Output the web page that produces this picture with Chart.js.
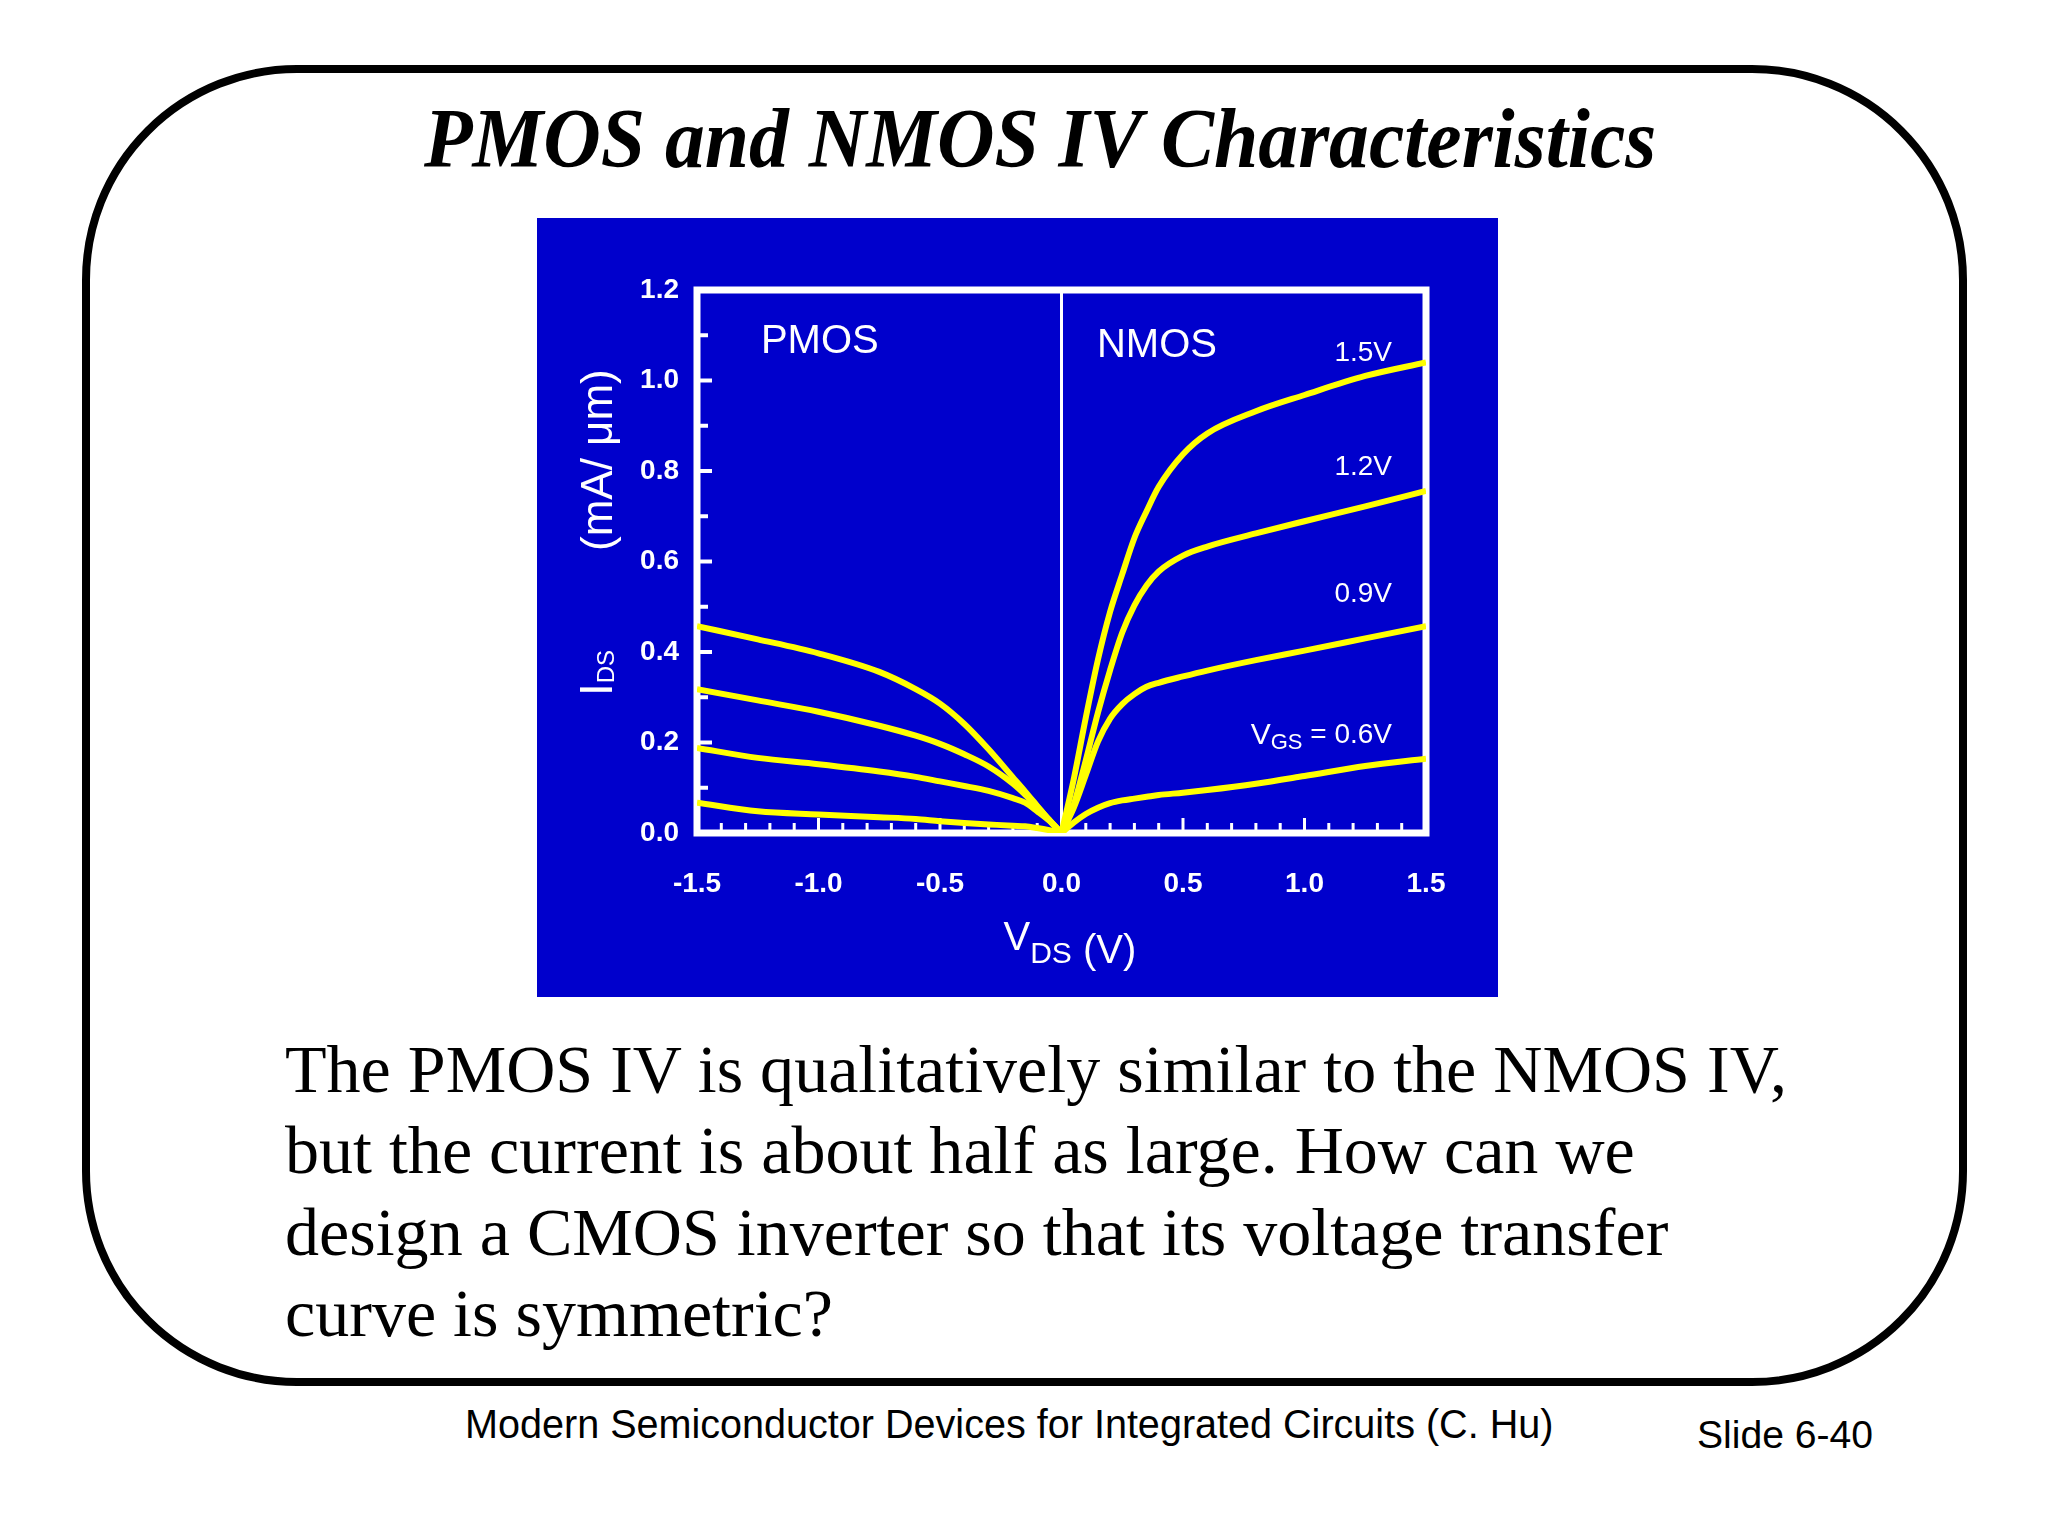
<!DOCTYPE html>
<html>
<head>
<meta charset="utf-8">
<script src="https://cdn.jsdelivr.net/npm/chart.js@4.4.1/dist/chart.umd.min.js"></script>
<style>
body { margin:0; width:2048px; height:1536px; background:#fff; position:relative; overflow:hidden; }
#frame { position:absolute; left:82px; top:65px; width:1885px; height:1321px; box-sizing:border-box; border:8px solid #000; border-radius:215px; }
.txt { position:absolute; white-space:nowrap; transform-origin:0 0; line-height:1; color:#000; }
#title { font-family:'Liberation Serif','Times New Roman',serif; font-weight:bold; font-style:italic; font-size:85px; }
.para { font-family:'Liberation Serif','Times New Roman',serif; font-size:68px; }
.foot { font-family:'Liberation Sans',Arial,sans-serif; }
#panel { position:absolute; left:537px; top:218px; width:961px; height:779px; background:#0000cc; }
</style>
</head>
<body>
<div id="frame"></div>
<div id="title" class="txt">PMOS and NMOS IV Characteristics</div>
<div id="panel"><canvas id="iv" width="961" height="779"></canvas></div>
<div id="p1" class="txt para">The PMOS IV is qualitatively similar to the NMOS IV,</div>
<div id="p2" class="txt para">but the current is about half as large. How can we</div>
<div id="p3" class="txt para">design a CMOS inverter so that its voltage transfer</div>
<div id="p4" class="txt para">curve is symmetric?</div>
<div id="f1" class="txt foot" style="font-size:40px">Modern Semiconductor Devices for Integrated Circuits (C. Hu)</div>
<div id="f2" class="txt foot" style="font-size:38px">Slide 6-40</div>
<script>
// NMOS branch, V_DS > 0
var vdsN = [0, 0.05, 0.1, 0.15, 0.2, 0.25, 0.3, 0.35, 0.4, 0.5, 0.6, 0.8, 1.0, 1.25, 1.5];
var idN15 = [0, 0.118, 0.255, 0.383, 0.489, 0.572, 0.652, 0.711, 0.765, 0.837, 0.883, 0.932, 0.968, 1.01, 1.04];
var idN12 = [0, 0.062, 0.161, 0.266, 0.36, 0.443, 0.503, 0.547, 0.578, 0.613, 0.633, 0.662, 0.689, 0.722, 0.756];
var idN09 = [0, 0.055, 0.128, 0.202, 0.253, 0.285, 0.307, 0.323, 0.332, 0.346, 0.359, 0.382, 0.403, 0.43, 0.457];
var idN06 = [0, 0.023, 0.042, 0.056, 0.066, 0.072, 0.076, 0.08, 0.084, 0.089, 0.095, 0.109, 0.126, 0.148, 0.164];

// PMOS branch, V_DS < 0 (current plotted as magnitude)
var vdsP = [-1.5, -1.25, -1.0, -0.75, -0.6, -0.5, -0.4, -0.3, -0.2, -0.15, -0.1, -0.05, 0];
var idP15 = [0.457, 0.428, 0.397, 0.356, 0.318, 0.286, 0.241, 0.185, 0.123, 0.092, 0.06, 0.028, 0];
var idP12 = [0.318, 0.293, 0.268, 0.237, 0.215, 0.197, 0.174, 0.147, 0.109, 0.085, 0.058, 0.029, 0];
var idP09 = [0.188, 0.166, 0.152, 0.136, 0.124, 0.114, 0.104, 0.093, 0.077, 0.067, 0.048, 0.027, 0];
var idP06 = [0.067, 0.048, 0.041, 0.035, 0.031, 0.026, 0.022, 0.019, 0.016, 0.015, 0.011, 0.006, 0];

var vgsLabels = ['1.5V', '1.2V', '0.9V', '0.6V'];
var vgsLabelY = [1.061, 0.808, 0.528, 0.216];

var FONT = "'Liberation Sans', Arial, sans-serif";
var WHITE = '#ffffff';
var YELLOW = '#ffff00';

function pts(xs, ys) {
    return xs.map(function (x, i) { return { x: x, y: ys[i] }; });
}

function curve(xs, ys) {
    return {
        data: pts(xs, ys),
        showLine: true,
        borderColor: YELLOW,
        borderWidth: 6,
        pointRadius: 0,
        cubicInterpolationMode: 'monotone',
        fill: false
    };
}

// draws a run of text pieces (used for subscripts)
function drawParts(ctx, x, y, parts) {
    parts.forEach(function (p) {
        ctx.font = p[1] + 'px ' + FONT;
        ctx.fillText(p[0], x, y + p[2]);
        x += ctx.measureText(p[0]).width;
    });
    return x;
}

function partsWidth(ctx, parts) {
    var w = 0;
    parts.forEach(function (p) {
        ctx.font = p[1] + 'px ' + FONT;
        w += ctx.measureText(p[0]).width;
    });
    return w;
}

var framePlugin = {
    id: 'frame',
    beforeDatasetsDraw: function (chart) {
        var c = chart.ctx, a = chart.chartArea;
        var xs = chart.scales.x, ys = chart.scales.y;
        c.save();
        c.strokeStyle = WHITE;
        c.fillStyle = WHITE;
        // zero line
        var x0 = xs.getPixelForValue(0);
        c.lineWidth = 3;
        c.beginPath();
        c.moveTo(x0, a.top);
        c.lineTo(x0, a.bottom);
        c.stroke();
        // inward ticks on the left axis
        c.lineWidth = 4;
        for (var i = 1; i < 12; i++) {
            var py = ys.getPixelForValue(i / 10);
            var len = (i % 2 === 0) ? 15 : 11;
            c.beginPath();
            c.moveTo(a.left, py);
            c.lineTo(a.left + len, py);
            c.stroke();
        }
        // inward ticks on the bottom axis
        c.lineWidth = 3;
        for (var j = -14; j <= 14; j++) {
            if (j === 0) continue;
            var px = xs.getPixelForValue(j / 10);
            var l2 = (j % 5 === 0) ? 15 : 10;
            c.beginPath();
            c.moveTo(px, a.bottom);
            c.lineTo(px, a.bottom - l2);
            c.stroke();
        }
        // plot frame
        c.lineWidth = 7;
        c.strokeRect(a.left, a.top, a.right - a.left, a.bottom - a.top);
        c.restore();
    },
    afterDraw: function (chart) {
        var c = chart.ctx, a = chart.chartArea;
        var xs = chart.scales.x, ys = chart.scales.y;
        c.save();
        c.fillStyle = WHITE;
        c.textBaseline = 'middle';
        c.textAlign = 'left';
        c.font = '40px ' + FONT;
        c.fillText('PMOS', xs.getPixelForValue(-1.237), ys.getPixelForValue(1.085));
        c.fillText('NMOS', xs.getPixelForValue(0.146), ys.getPixelForValue(1.076));

        // gate voltage labels, right aligned
        var xr = xs.getPixelForValue(1.36);
        c.textAlign = 'right';
        c.font = '28px ' + FONT;
        for (var k = 0; k < 3; k++) {
            c.fillText(vgsLabels[k], xr, ys.getPixelForValue(vgsLabelY[k]));
        }
        c.textAlign = 'left';
        var lastParts = [['V', 30, 0], ['GS', 22, 8], [' = ' + vgsLabels[3], 28, 0]];
        drawParts(c, xr - partsWidth(c, lastParts), ys.getPixelForValue(vgsLabelY[3]), lastParts);

        // x axis title
        c.textBaseline = 'alphabetic';
        var cx = (a.left + a.right) / 2;
        drawParts(c, cx - 58, a.bottom + 117, [['V', 40, 0], ['DS', 30, 13], [' (V)', 40, 13]]);

        // y axis title, rotated
        c.translate(a.left - 85, a.bottom - 137);
        c.rotate(-Math.PI / 2);
        drawParts(c, 0, 0, [['I', 46, 0], ['DS', 24, 2]]);
        c.font = '44px ' + FONT;
        c.fillText('(mA/ \u03bcm)', 145, 0);
        c.restore();
    }
};

new Chart(document.getElementById('iv').getContext('2d'), {
    type: 'scatter',
    data: {
        datasets: [
            curve(vdsN, idN15), curve(vdsN, idN12), curve(vdsN, idN09), curve(vdsN, idN06),
            curve(vdsP, idP15), curve(vdsP, idP12), curve(vdsP, idP09), curve(vdsP, idP06)
        ]
    },
    options: {
        responsive: false,
        animation: false,
        layout: { padding: { left: 0, top: 72, right: 72, bottom: 0 } },
        plugins: { legend: { display: false }, tooltip: { enabled: false } },
        scales: {
            x: {
                type: 'linear', min: -1.5, max: 1.5,
                afterFit: function (s) { s.height = 164; },
                grid: { display: false, drawTicks: false },
                border: { display: false },
                ticks: {
                    stepSize: 0.5, autoSkip: false, maxRotation: 0, padding: 34,
                    color: WHITE, font: { family: FONT, size: 28, weight: 'bold' },
                    callback: function (v) { return v.toFixed(1); }
                }
            },
            y: {
                min: 0, max: 1.2,
                afterFit: function (s) { s.width = 160; },
                grid: { display: false, drawTicks: false },
                border: { display: false },
                ticks: {
                    stepSize: 0.2, autoSkip: false, padding: 18,
                    color: WHITE, font: { family: FONT, size: 28, weight: 'bold' },
                    callback: function (v) { return v.toFixed(1); }
                }
            }
        }
    },
    plugins: [framePlugin]
});

// slide text placement: left edge, baseline, horizontal fit
var SERIF_ASC = 0.8375, SANS_ASC = 0.8465;
function place(id, left, baseline, asc, scale) {
    var el = document.getElementById(id);
    var fs = parseFloat(getComputedStyle(el).fontSize);
    el.style.left = left + 'px';
    el.style.top = (baseline - asc * fs) + 'px';
    el.style.transform = 'scaleX(' + scale + ')';
}
function fit(id, width) {
    return width / document.getElementById(id).offsetWidth;
}
place('title', 424, 167, SERIF_ASC, fit('title', 1232));
var ps = fit('p1', 1502);
place('p1', 285, 1092, SERIF_ASC, ps);
place('p2', 285, 1173, SERIF_ASC, ps);
place('p3', 285, 1255, SERIF_ASC, ps);
place('p4', 285, 1336, SERIF_ASC, ps);
place('f1', 465, 1438, SANS_ASC, fit('f1', 1088));
place('f2', 1697, 1448, SANS_ASC, fit('f2', 176));
</script>
</body>
</html>
